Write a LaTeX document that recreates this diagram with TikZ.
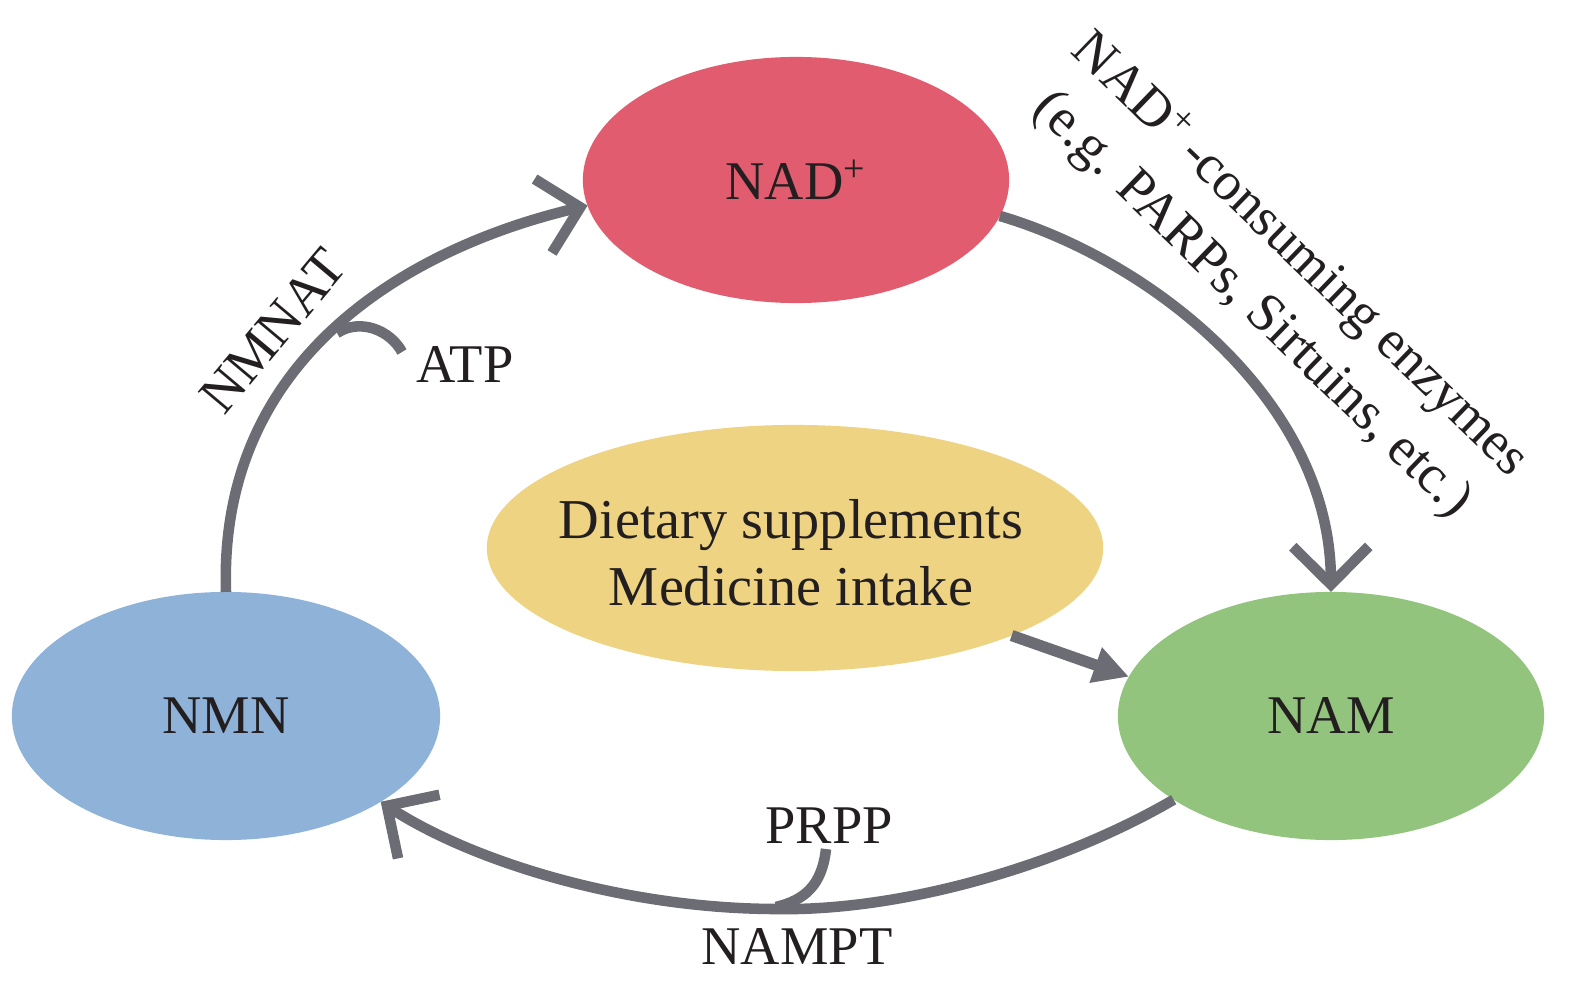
\documentclass[tikz,border=0pt]{standalone}
\usepackage{fontspec}
\setmainfont{Liberation Serif}
\usetikzlibrary{shapes.geometric,arrows.meta}
\definecolor{nadred}{HTML}{E05C6E}
\definecolor{nmnblue}{HTML}{8FB3D8}
\definecolor{namgreen}{HTML}{93C47D}
\definecolor{dietyellow}{HTML}{EDD382}
\definecolor{arrowgray}{HTML}{6C6C74}
\definecolor{ink}{HTML}{231F20}
\begin{document}
\begin{tikzpicture}[x=0.01cm,y=-0.01cm,
  bubble/.style={ellipse, inner sep=0pt, outer sep=0pt, text=ink, font=\fontsize{15.5}{18.5}\selectfont, align=center},
  lbl/.style={text=ink, inner sep=0pt, font=\fontsize{15.5}{19.5}\selectfont, align=center},
  flow/.style={draw=arrowgray, line width=3pt, -{Straight Barb[sharp,length=10.8pt,width=21.6pt]}},
  link/.style={draw=arrowgray, line width=3pt},
  feed/.style={draw=arrowgray, line width=3.2pt, -{Triangle[length=10pt,width=10pt]}},
]
\useasboundingbox (0,0) rectangle (1575,994);
% nodes
\node[bubble, fill=nadred, minimum width=4.26cm, minimum height=2.46cm] (nad) at (796,180) {NAD\textsuperscript{+}};
\node[bubble, fill=nmnblue, minimum width=4.28cm, minimum height=2.48cm] (nmn) at (226,716) {NMN};
\node[bubble, fill=namgreen, minimum width=4.26cm, minimum height=2.48cm] (nam) at (1331,716) {NAM};
\node[bubble, fill=dietyellow, minimum width=6.16cm, minimum height=2.46cm] (diet) at (795,548) {};
\node[lbl, font=\fontsize{16}{19}\selectfont] (diettext) at (791,553) {Dietary supplements\\Medicine intake};
% labels
\node[lbl] (atp) at (465,365) {ATP};
\node[lbl] (prpp) at (829,826) {PRPP};
\node[lbl] (nampt) at (797,947) {NAMPT};
\node[lbl, rotate=50] (nmnat) at (273,331) {NMNAT};
\node[lbl, rotate=-44] (consume) at (1276,280) {NAD\textsuperscript{+}\,-consuming enzymes\\(e.g. PARPs, Sirtuins, etc.)};
% helper points
\coordinate (bottom) at (773,909);
\coordinate (atpJ) at (337,333);
\coordinate (atpE) at (402,352);
\coordinate (prppS) at (826,849);
\coordinate (prppJ) at (776,907);
% connectors
\draw[flow] (nmn.north) .. controls (218,350) and (420,245) .. (nad.187);
\draw[flow] (nad.-10) .. controls (1150,260) and (1330,400) .. (nam.north);
\draw[flow] (nam.208) .. controls (1060,866) and (900,912) .. (bottom) .. controls (620,908) and (470,860) .. (nmn.-29);
\draw[link] (atpJ) .. controls (360,318) and (390,330) .. (atpE);
\draw[link] (prppS) .. controls (822,885) and (805,900) .. (prppJ);
\draw[feed] (diet.-22) -- (nam.169);
\end{tikzpicture}
\end{document}
